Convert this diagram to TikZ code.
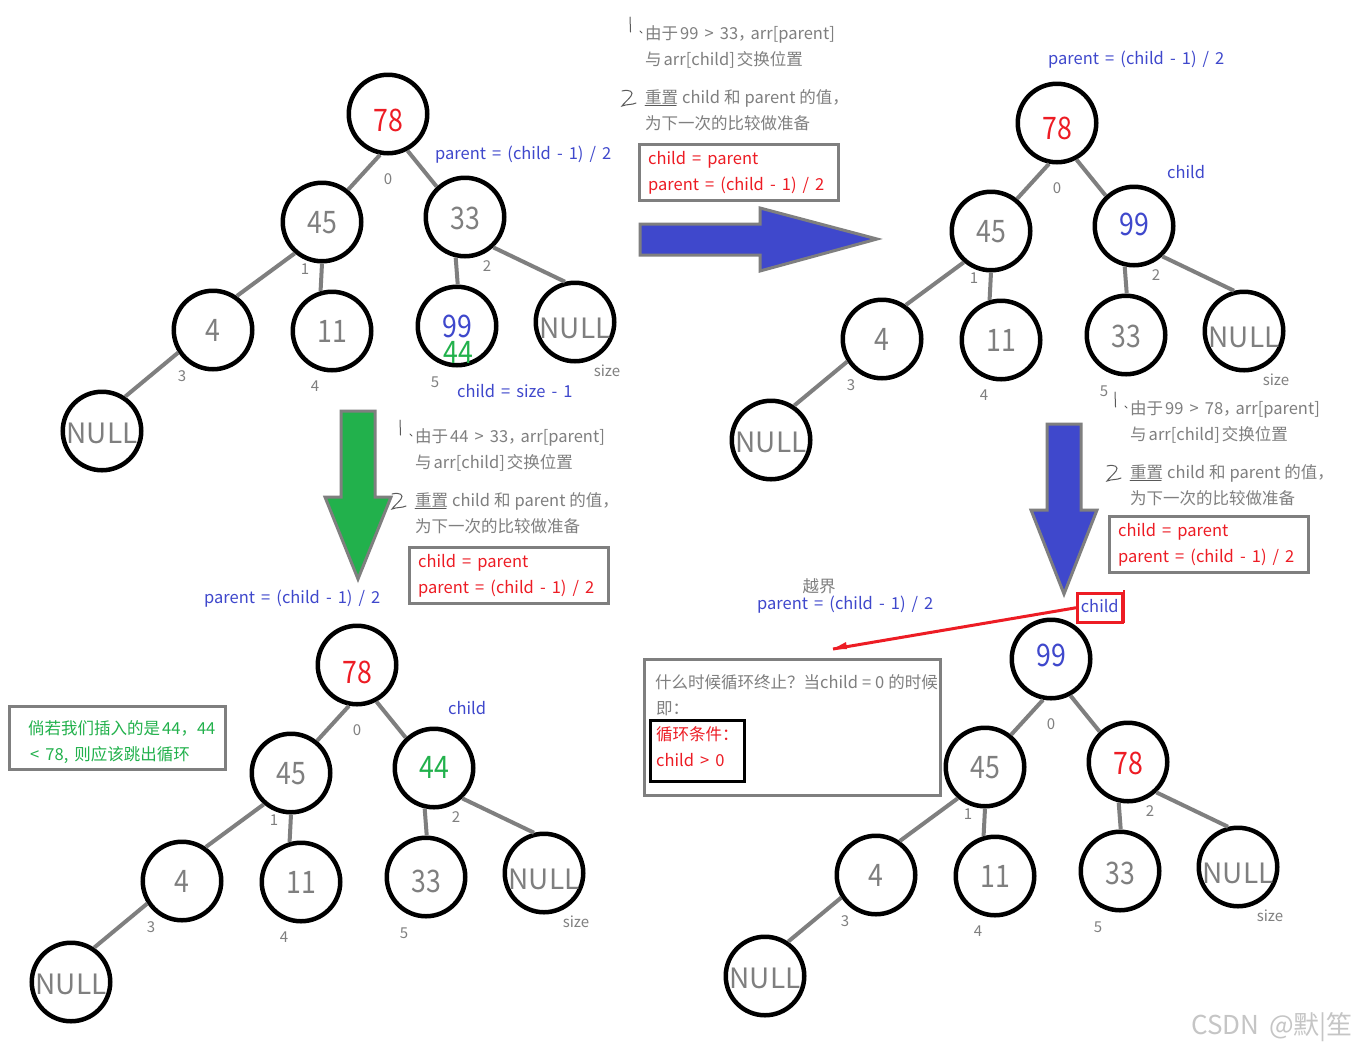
\documentclass[tikz,border=0pt]{standalone}
\usepackage{fontspec}
\setmainfont[WordSpace=1.65]{Noto Sans CJK SC}
\newfontfamily\digitfam[FakeStretch=0.86]{Noto Sans CJK SC}
\definecolor{tgrey}{HTML}{7F7F7F}
\definecolor{tblue}{HTML}{3F48CC}
\definecolor{tred}{HTML}{ED1C24}
\definecolor{tgreen}{HTML}{22B14C}
\newcommand{\valfont}{\digitfam\fontsize{31}{31}\selectfont}
\newcommand{\emptyfont}{\fontsize{28}{28}\selectfont}
\newcommand{\notefont}{\fontsize{16.5}{16.5}\selectfont}
\newcommand{\idxfont}{\fontsize{15}{15}\selectfont}
\newcommand{\dn}[2]{\raisebox{-#1pt}[\height][\depth]{#2}}
\newcommand{\gp}[1]{\hspace{#1pt}}
\tikzset{
  treenode/.style={circle,draw=black,line width=4.5pt,minimum size=78.5pt,inner sep=0pt,fill=white,text=tgrey,font=\valfont},
  nullnode/.style={treenode,font=\emptyfont},
  treeedge/.style={draw=tgrey,line width=4pt},
  idx/.style={inner sep=0pt,text=tgrey,font=\idxfont},
  note/.style={inner sep=0pt,anchor=base west,yshift=-6.5pt,text=tgrey,font=\notefont},
  rednote/.style={note,text=tred},
  bluenote/.style={note,text=tblue},
  greennote/.style={note,text=tgreen},
  greybox/.style={draw=tgrey,line width=3pt,fill=white},
  bigarrow/.style={draw=tgrey,line width=3pt,line join=miter},
  scribble/.style={draw=tgrey!70!black,line width=1pt,line cap=round},
}
\newcommand{\heaptree}[6]{%
\begin{scope}[shift={(#2,#3)},name prefix=#1-]
  \node[treenode] (r) at (388,114) {#4};
  \node[treenode] (l) at (322,222) {\dn{1}{45}};
  \node[treenode] (q) at (465,217) {#5};
  \node[treenode] (ll) at (213,330) {4};
  \node[treenode] (lr) at (332,331) {11};
  \node[treenode] (rl) at (457,326) {#6};
  \node[nullnode] (rr) at (575,322) {\dn{6}{NULL}};
  \node[nullnode] (lll) at (102,431) {\dn{2}{NULL}};
  \draw[treeedge] (r.259) -- (l.51);
  \draw[treeedge] (r.298) -- (q.133);
  \draw[treeedge] (l.229) -- (ll.55);
  \draw[treeedge] (l.270) -- (lr.106);
  \draw[treeedge] (q.257) -- (rl.89);
  \draw[treeedge] (q.313) -- (rr.104);
  \draw[treeedge] (ll.213) -- (lll.56);
  \node[idx] (i0) at (388,179) {0};
  \node[idx] (i1) at (305,269) {1};
  \node[idx] (i2) at (487,266) {2};
  \node[idx] (i3) at (182,376) {3};
  \node[idx] (i4) at (315,386) {4};
  \node[idx] (i5) at (435,382) {5};
  \node[idx] (isize) at (607,371) {size};
\end{scope}}
\newcommand{\stepnotes}[4]{%
\begin{scope}[shift={(#2,#3)},name prefix=#1-]
  \node[note] (a) at (645,33) {#4};
  \node[note] (b) at (645,59) {与\gp{2}arr[child]\gp{2}交换位置};
  \node[note] (c) at (645,97) {重置\gp{4}child\gp{4}和\gp{4}parent\gp{4}的值，};
  \node[note] (d) at (645,123) {为下一次的比较做准备};
  \draw[scribble] (630,17) -- (630.5,32);
  \draw[scribble] (640,31) -- (642,33);
  \draw[scribble] (622,91) .. controls (630,89) and (634,92) .. (631,96) .. controls (628,100) and (624,103) .. (622,106) .. controls (627,104) and (632,105) .. (636,103);
  \draw[scribble] (645,105) -- (676,105);
\end{scope}}
\newcommand{\updatebox}[3]{%
\begin{scope}[shift={(#2,#3)},name prefix=#1-]
  \node[greybox,minimum width=199pt,minimum height=56pt,inner sep=0pt,anchor=north west] (box) at (638,143) {};
  \node[rednote] (p) at (648,158) {child = parent};
  \node[rednote] (q) at (648,184) {parent = (child - 1) / 2};
\end{scope}}
\begin{document}
\begin{tikzpicture}[x=1pt,y=-1pt]
\useasboundingbox (0,0) rectangle (1356,1050);
\fill[white] (0,0) rectangle (1356,1050);

\heaptree{ta}{0}{0}{\dn{6}{\textcolor{tred}{78}}}{\dn{1}{33}}{\textcolor{tblue}{99}}
\heaptree{tb}{669}{9}{\dn{5}{\textcolor{tred}{78}}}{\dn{-2}{\textcolor{tblue}{99}}}{\dn{1}{33}}
\heaptree{tc}{-31}{551}{\dn{7}{\textcolor{tred}{78}}}{\dn{-1}{\textcolor{tgreen}{44}}}{\dn{4}{33}}
\heaptree{td}{663}{545}{\dn{-4}{\textcolor{tblue}{99}}}{\dn{1}{\textcolor{tred}{78}}}{\dn{2}{33}}
\node[inner sep=0pt,text=tgreen,font=\valfont] (extra44) at (458,352) {44};

\node[bluenote] (pa) at (435,153) {parent = (child - 1) / 2};
\node[bluenote] (ca) at (457,391) {child = size - 1};
\node[bluenote] (pb) at (1048,58) {parent = (child - 1) / 2};
\node[bluenote] (cb) at (1167,172) {child};
\node[bluenote] (pc) at (204,597) {parent = (child - 1) / 2};
\node[bluenote] (cc) at (448,708) {child};
\node[bluenote] (pd) at (757,603) {parent = (child - 1) / 2};
\node[inner sep=0pt,text=tgrey,font=\notefont] (yue) at (819,586) {越界};

\stepnotes{na}{0}{0}{由于\gp{2}99 > 33，\gp{-4}arr[parent]}
\updatebox{ba}{0}{0}
\stepnotes{nb}{-230}{403}{由于\gp{2}44 > 33，\gp{-4}arr[parent]}
\updatebox{bb}{-230}{403}
\stepnotes{nc}{485}{375}{由于\gp{2}99 > 78，\gp{-4}arr[parent]}
\updatebox{bc}{470}{372}

\draw[bigarrow,fill=tblue] (640,224) -- (760,224) -- (760,208) -- (877,239) -- (760,271) -- (760,255) -- (640,255) -- cycle;
\draw[bigarrow,fill=tgreen] (341,411) -- (375,411) -- (375,497) -- (391,497) -- (358,579) -- (325,497) -- (341,497) -- cycle;
\draw[bigarrow,fill=tblue] (1047,424) -- (1081,424) -- (1081,510) -- (1097,510) -- (1064,594) -- (1031,510) -- (1047,510) -- cycle;

\node[greybox,minimum width=216pt,minimum height=63pt,inner sep=0pt,anchor=north west] (gbox) at (8,705) {};
\node[greennote] (g1) at (28,728) {倘若我们插入的是\gp{2}44，44};
\node[greennote] (g2) at (30,754) {< 78, 则应该跳出循环};

\node[greybox,minimum width=296pt,minimum height=136pt,inner sep=0pt,anchor=north west] (bigbox) at (643,658) {};
\node[note] (w1) at (655,682) {什么时候循环终止？当child\gp{4}=\gp{4}0\gp{4}的时候};
\node[note] (w2) at (656,708) {即：};
\node[draw=black,line width=3pt,minimum width=94pt,minimum height=61pt,inner sep=0pt,anchor=north west] (blk) at (649,719) {};
\node[rednote] (w3) at (656,734) {循环条件：};
\node[rednote] (w4) at (656,760) {child > 0};

\node[draw=tred,line width=2.5pt,minimum width=45pt,minimum height=29pt,inner sep=0pt,text=tblue,font=\notefont,anchor=north west] (cd) at (1076,592) {\dn{-2}{child}};
\coordinate (cdend) at (833,649);
\draw[tred,line width=3pt] (cd.west) -- (cdend);
\fill[tred] (cdend) -- (846,642) -- (847,649) -- cycle;
\draw[tred,line width=2.5pt] (1124,590) -- (1124,623);

\node[inner sep=0pt,anchor=east,text=tgrey!45,font=\fontsize{26}{26}\selectfont] (wm) at (1353,1027) {CSDN @默|笙};
\end{tikzpicture}
\end{document}
